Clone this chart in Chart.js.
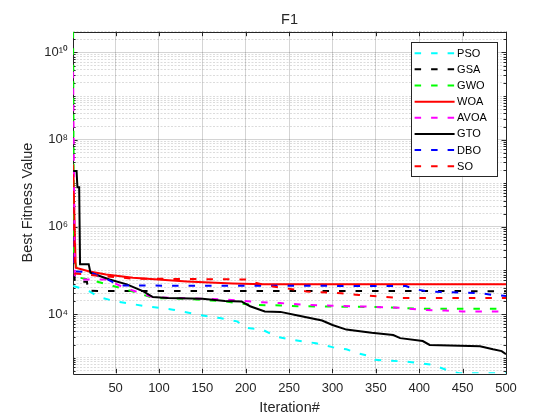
<!DOCTYPE html>
<html>
<head>
<meta charset="utf-8">
<script src="https://cdn.jsdelivr.net/npm/chart.js@4.4.1/dist/chart.umd.min.js"></script>
<style>
html,body{margin:0;padding:0;background:#ffffff;}
#wrap{position:relative;width:560px;height:420px;}
</style>
</head>
<body>
<div id="wrap"><canvas id="c"></canvas></div>
<script>
// ---------- data ----------
const chartTitle = 'F1';
const xAxisLabel = 'Iteration#';
const yAxisLabel = 'Best Fitness Value';
const seriesNames = ['PSO', 'GSA', 'GWO', 'WOA', 'AVOA', 'GTO', 'DBO', 'SO'];
const xTickValues = [50, 100, 150, 200, 250, 300, 350, 400, 450, 500];
const yLabelExponents = [4, 6, 8, 10];
const xRange = [1, 500];
const yRange = [437, 3.0e10];

const psoIter = [1, 8, 20, 31, 50, 85, 116, 147, 170, 190, 201, 219, 236, 251, 266, 281, 300, 316, 329, 345, 349, 385, 416, 431, 446, 500];
const psoVal  = [4.4e4, 4.0e4, 3.3e4, 2.45e4, 1.95e4, 1.51e4, 1.26e4, 9.5e3, 8.1e3, 6.8e3, 4.8e3, 4.4e3, 3.0e3, 2.6e3, 2.35e3, 2.14e3, 1.74e3, 1.55e3, 1.26e3, 1.05e3, 890, 810, 680, 525, 437, 437];

const gsaIter = [1, 3, 17, 18, 500];
const gsaVal  = [2.0e5, 5.5e4, 5.5e4, 3.4e4, 3.35e4];

const gwoIter = [1, 2, 5, 9, 28, 47, 70, 93, 130, 176, 207, 240, 260, 350, 380, 400, 500];
const gwoVal  = [3.0e10, 2.0e5, 1.15e5, 6.8e4, 5.6e4, 4.4e4, 3.3e4, 2.34e4, 2.24e4, 1.95e4, 1.62e4, 1.58e4, 1.51e4, 1.45e4, 1.38e4, 1.32e4, 1.32e4];

const woaIter = [1, 4, 20, 39, 70, 132, 185, 220, 500];
const woaVal  = [2.7e7, 1.15e5, 9.5e4, 8.1e4, 6.8e4, 5.6e4, 5.0e4, 4.8e4, 4.8e4];

const avoaIter = [1, 3, 9, 40, 50, 60, 85, 93, 120, 180, 210, 240, 270, 300, 340, 380, 400, 430, 450, 500];
const avoaVal  = [3.6e9, 6.8e4, 6.2e4, 6.2e4, 5.0e4, 4.0e4, 2.75e4, 2.45e4, 2.34e4, 2.14e4, 1.9e4, 1.78e4, 1.62e4, 1.55e4, 1.48e4, 1.38e4, 1.26e4, 1.2e4, 1.15e4, 1.15e4];

const gtoIter = [1, 5, 6, 8, 9, 19, 21, 43, 63, 82, 93, 110, 150, 176, 195, 205, 222, 240, 260, 288, 300, 316, 345, 370, 378, 404, 412, 470, 485, 495, 500];
const gtoVal  = [1.9e7, 1.9e7, 8.1e6, 8.1e6, 1.38e5, 1.38e5, 8.9e4, 6.2e4, 4.8e4, 3.3e4, 2.45e4, 2.34e4, 2.24e4, 2.0e4, 1.95e4, 1.51e4, 1.15e4, 1.12e4, 9.3e3, 7.1e3, 5.6e3, 4.4e3, 3.7e3, 3.3e3, 2.8e3, 2.4e3, 1.95e3, 1.82e3, 1.55e3, 1.41e3, 1.2e3];

const dboIter = [1, 2, 20, 40, 55, 385, 392, 410, 470, 485, 500];
const dboVal  = [2.8e6, 9.5e4, 9.1e4, 6.3e4, 4.5e4, 4.4e4, 3.8e4, 3.3e4, 3.0e4, 2.75e4, 2.6e4];

const soIter = [1, 3, 35, 70, 200, 205, 225, 270, 310, 330, 377, 500];
const soVal  = [1.6e7, 8.5e4, 7.4e4, 6.5e4, 6.2e4, 5.6e4, 4.5e4, 3.3e4, 3.0e4, 2.75e4, 2.34e4, 2.34e4];

// ---------- styles ----------
const FONT = "'Liberation Sans', Arial, Helvetica, sans-serif";
const AXIS_COLOR = '#262626';
const DASH = [6.5, 10];
const seriesStyle = [
  {color: '#00ffff', dash: DASH},
  {color: '#000000', dash: DASH},
  {color: '#00ff00', dash: DASH},
  {color: '#ff0000', dash: []},
  {color: '#ff00ff', dash: DASH},
  {color: '#000000', dash: []},
  {color: '#0000ff', dash: DASH},
  {color: '#ff0000', dash: DASH}
];
const seriesIters = [psoIter, gsaIter, gwoIter, woaIter, avoaIter, gtoIter, dboIter, soIter];
const seriesVals  = [psoVal, gsaVal, gwoVal, woaVal, avoaVal, gtoVal, dboVal, soVal];

const SUP = {'0':'\u2070','1':'\u00B9','2':'\u00B2','3':'\u00B3','4':'\u2074','5':'\u2075','6':'\u2076','7':'\u2077','8':'\u2078','9':'\u2079','-':'\u207B'};
function supText(n){ return String(n).split('').map(c => SUP[c]).join(''); }

function isMajorLog(v){
  const l = Math.log10(v);
  const e = Math.round(l);
  return Math.abs(l - e) < 1e-9 && yLabelExponents.indexOf(e) >= 0;
}
// all 1..9 x 10^n positions inside the range (for the minor log grid)
function logTickValues(){
  const out = [];
  for (let e = Math.floor(Math.log10(yRange[0])); e <= Math.ceil(Math.log10(yRange[1])); e++){
    for (let k = 1; k <= 9; k++){
      const v = k * Math.pow(10, e);
      if (v >= yRange[0] && v <= yRange[1]) out.push(v);
    }
  }
  return out;
}

const datasets = seriesNames.map((name, i) => ({
  label: name,
  data: seriesIters[i].map((it, j) => ({x: it, y: seriesVals[i][j]})),
  borderColor: seriesStyle[i].color,
  backgroundColor: seriesStyle[i].color,
  borderDash: seriesStyle[i].dash,
  borderWidth: 2,
  pointRadius: 0,
  pointHoverRadius: 0,
  tension: 0,
  fill: false,
  order: seriesNames.length - i,
  borderCapStyle: 'butt',
  borderJoinStyle: 'miter'
}));

// frame + inward ticks (drawn under the data, like MATLAB)
const framePlugin = {
  id: 'frame',
  beforeDatasetsDraw(chart){
    const {ctx, chartArea: a, scales: {x, y}} = chart;
    ctx.save();
    ctx.strokeStyle = AXIS_COLOR;
    ctx.lineWidth = 1;
    ctx.beginPath();
    ctx.rect(Math.round(a.left) + 0.5, Math.round(a.top) + 0.5, Math.round(a.right - a.left), Math.round(a.bottom - a.top));
    ctx.stroke();
    ctx.beginPath();
    xTickValues.forEach(v => {
      const px = Math.round(x.getPixelForValue(v)) + 0.5;
      ctx.moveTo(px, a.bottom); ctx.lineTo(px, a.bottom - 4.5);
      ctx.moveTo(px, a.top); ctx.lineTo(px, a.top + 4.5);
    });
    logTickValues().forEach(v => {
      const py = Math.round(y.getPixelForValue(v)) + 0.5;
      const len = isMajorLog(v) ? 4.5 : 2.5;
      ctx.moveTo(a.left, py); ctx.lineTo(a.left + len, py);
      ctx.moveTo(a.right, py); ctx.lineTo(a.right - len, py);
    });
    ctx.stroke();
    ctx.restore();
  },
  afterDraw(chart){
    const {ctx, chartArea: a} = chart;
    // title
    ctx.save();
    ctx.fillStyle = AXIS_COLOR;
    ctx.font = "14.5px " + FONT;
    ctx.textAlign = 'center';
    ctx.textBaseline = 'alphabetic';
    ctx.fillText(chartTitle, (a.left + a.right) / 2, a.top - 7.5);
    ctx.restore();

    // legend box (northeast, inside axes)
    const ds = chart.data.datasets;
    const boxRight = a.right - 8.5;
    const boxLeft = a.left + 338;
    const boxTop = a.top + 10.5;
    const rowH = 16.15;
    const boxBottom = boxTop + rowH * ds.length + 4.5;
    ctx.save();
    ctx.fillStyle = '#ffffff';
    ctx.fillRect(boxLeft, boxTop, boxRight - boxLeft, boxBottom - boxTop);
    ctx.strokeStyle = AXIS_COLOR;
    ctx.lineWidth = 1;
    ctx.strokeRect(Math.round(boxLeft) + 0.5, Math.round(boxTop) + 0.5, Math.round(boxRight - boxLeft), Math.round(boxBottom - boxTop));
    ds.forEach((d, i) => {
      const yy = boxTop + 11 + i * rowH;
      ctx.beginPath();
      ctx.strokeStyle = d.borderColor;
      ctx.lineWidth = 2;
      ctx.setLineDash(d.borderDash || []);
      ctx.moveTo(boxLeft + 3.5, yy);
      ctx.lineTo(boxLeft + 43.5, yy);
      ctx.stroke();
      ctx.setLineDash([]);
      ctx.fillStyle = '#000000';
      ctx.font = "11px " + FONT;
      ctx.textAlign = 'left';
      ctx.textBaseline = 'middle';
      ctx.fillText(d.label, boxLeft + 46, yy + 0.5);
    });
    ctx.restore();
  }
};

const chart = new Chart(document.getElementById('c'), {
  type: 'line',
  data: {datasets},
  plugins: [framePlugin],
  options: {
    responsive: true,
    maintainAspectRatio: false,
    animation: false,
    events: [],
    layout: {padding: {top: 31.7, right: 54, left: 0, bottom: 0}},
    plugins: {legend: {display: false}, title: {display: false}, tooltip: {enabled: false}},
    scales: {
      x: {
        type: 'linear',
        min: xRange[0],
        max: xRange[1],
        afterBuildTicks(scale){ scale.ticks = xTickValues.map(v => ({value: v})); },
        afterFit(scale){ scale.height = 46.7; },
        ticks: {
          autoSkip: false, maxRotation: 0, padding: 7,
          color: AXIS_COLOR, font: {family: FONT, size: 13},
          callback: v => String(v)
        },
        grid: {color: 'rgba(38,38,38,0.2)', lineWidth: 1, drawTicks: false},
        border: {display: false, dash: []},
        title: {display: true, text: xAxisLabel, color: AXIS_COLOR, font: {family: FONT, size: 14.5}, padding: {top: 0, bottom: 3.5}}
      },
      y: {
        type: 'logarithmic',
        min: yRange[0],
        max: yRange[1],
        afterBuildTicks(scale){ scale.ticks = logTickValues().map(v => ({value: v})); },
        afterFit(scale){ scale.width = 73.1; },
        ticks: {
          autoSkip: false, padding: 5,
          color: AXIS_COLOR, font: {family: FONT, size: 13},
          callback: v => isMajorLog(v) ? '10' + supText(Math.round(Math.log10(v))) : ''
        },
        grid: {
          drawTicks: false,
          lineWidth: 1,
          color: ctx => (ctx.tick && isMajorLog(ctx.tick.value)) ? 'rgba(38,38,38,0.2)' : 'rgba(38,38,38,0.16)'
        },
        border: {
          display: false,
          dash: ctx => (ctx.tick && isMajorLog(ctx.tick.value)) ? [] : [2, 1.5]
        },
        title: {display: true, text: yAxisLabel, color: AXIS_COLOR, font: {family: FONT, size: 14.5}, padding: {top: 19, bottom: 0}}
      }
    }
  }
});
</script>
</body>
</html>
